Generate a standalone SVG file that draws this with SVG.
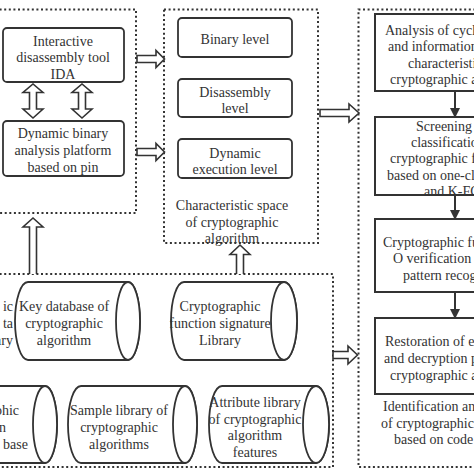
<svg xmlns="http://www.w3.org/2000/svg" width="474" height="474" viewBox="0 0 474 474">
<style>
text{font-family:"Liberation Serif","Times New Roman",serif;font-size:14px;fill:#333}
.c{text-anchor:middle}
.s{text-anchor:start}
.e{text-anchor:end}
.dot{fill:none;stroke:#333;stroke-width:2;stroke-dasharray:2 2.6}
.rb{fill:#fff;stroke:#333;stroke-width:1.8}
.sb{fill:#fff;stroke:#333;stroke-width:2}
.cy{fill:#fff;stroke:#333;stroke-width:1.8}
.ha{fill:#fff;stroke:#333;stroke-width:1.6;stroke-linejoin:miter}
.ln{stroke:#333;stroke-width:2;fill:none}
</style>
<defs>
<marker id="fa" markerWidth="10" markerHeight="10" refX="9" refY="5" orient="auto" markerUnits="userSpaceOnUse">
<path d="M0,0 L10,5 L0,10 Z" fill="#333"/>
</marker>
</defs>
<rect width="474" height="474" fill="#fff"/>

<g id="containers">
<path class="dot" d="M-5,9.5 H136 V213 H-5"/>
<rect class="dot" x="164" y="9.5" width="154" height="233.5"/>
<path class="dot" d="M480,9.5 H358.5 V467 H480"/>
<path class="dot" d="M-5,274 H333 V467 H-5"/>
</g>

<g id="ida">
<rect class="rb" x="3" y="28" width="121" height="54" rx="4"/>
<text class="c" x="63" y="45.5">Interactive</text>
<text class="c" x="63" y="62">disassembly tool</text>
<text class="c" x="63" y="79">IDA</text>
</g>
<g id="pin">
<rect class="rb" x="3" y="121" width="121" height="55" rx="4"/>
<text class="c" x="63" y="138">Dynamic binary</text>
<text class="c" x="63" y="155">analysis platform</text>
<text class="c" x="63" y="171.5">based on pin</text>
</g>

<g id="binary">
<rect class="rb" x="178" y="18" width="114" height="39" rx="4"/>
<text class="c" x="235" y="44">Binary level</text>
</g>
<g id="disasm">
<rect class="rb" x="178" y="79" width="114" height="38" rx="4"/>
<text class="c" x="235" y="97">Disassembly</text>
<text class="c" x="235" y="113">level</text>
</g>
<g id="dynexec">
<rect class="rb" x="178" y="139" width="114" height="39" rx="4"/>
<text class="c" x="235" y="157.5">Dynamic</text>
<text class="c" x="235" y="173.5">execution level</text>
</g>
<g id="space-caption">
<text class="c" x="232" y="210">Characteristic space</text>
<text class="c" x="232" y="227">of cryptographic</text>
<text class="c" x="232" y="243">algorithm</text>
</g>

<g id="r1">
<rect class="sb" x="375" y="14" width="170" height="77"/>
<text class="s" x="385" y="35">Analysis of cycl</text>
<text class="s" x="388" y="51">and information</text>
<text class="s" x="408" y="68">characteristi</text>
<text class="s" x="390" y="84">cryptographic a</text>
</g>
<g id="r2">
<rect class="sb" x="375" y="117" width="170" height="78"/>
<text class="s" x="416" y="131">Screening</text>
<text class="s" x="411" y="147">classificatio</text>
<text class="s" x="390" y="163">cryptographic f</text>
<text class="s" x="387" y="180">based on one-cl</text>
<text class="s" x="424" y="196">and K-FC</text>
<line x1="375" y1="195" x2="480" y2="195" stroke="#333" stroke-width="2"/>
</g>
<g id="r3">
<rect class="sb" x="375" y="219" width="170" height="73"/>
<text class="s" x="383" y="246.5">Cryptographic fu</text>
<text class="s" x="393" y="263">O verification</text>
<text class="s" x="403" y="280">pattern recog</text>
</g>
<g id="r4">
<rect class="sb" x="375" y="318" width="170" height="76"/>
<text class="s" x="385" y="346">Restoration of e</text>
<text class="s" x="384" y="363">and decryption p</text>
<text class="s" x="390" y="380">cryptographic a</text>
</g>
<g id="right-caption">
<text class="s" x="383" y="411">Identification an</text>
<text class="s" x="381" y="428">of cryptographic</text>
<text class="s" x="394" y="444">based on code</text>
</g>

<g id="cyl-left-top">
<text class="e" x="13" y="311">ic</text>
<text class="e" x="13" y="328">ta</text>
<text class="e" x="13" y="345">ary</text>
</g>
<g id="cyl-keydb">
<path class="cy" d="M28,282 H128 A12,39 0 0 1 128,360 H28 A13,39 0 0 1 28,282 Z"/>
<ellipse class="cy" cx="128" cy="321" rx="12" ry="39"/>
<text class="c" x="64" y="311">Key database of</text>
<text class="c" x="64" y="328">cryptographic</text>
<text class="c" x="64" y="345">algorithm</text>
</g>
<g id="cyl-sig">
<path class="cy" d="M184,282 H284 A13,39 0 0 1 284,360 H184 A13,39 0 0 1 184,282 Z"/>
<ellipse class="cy" cx="284" cy="321" rx="13" ry="39"/>
<text class="c" x="220" y="311">Cryptographic</text>
<text class="c" x="220" y="328">function signature</text>
<text class="c" x="220" y="345">Library</text>
</g>
<g id="cyl-left-bottom">
<path class="cy" d="M-10,386 H45 A12,38.5 0 0 1 45,463 H-10 Z"/>
<ellipse class="cy" cx="45" cy="424.5" rx="12" ry="38.5"/>
<text class="e" x="19" y="415">phic</text>
<text class="e" x="6" y="432">n</text>
<text class="e" x="28" y="449">base</text>
</g>
<g id="cyl-sample">
<path class="cy" d="M81,386 H185 A12,38.5 0 0 1 185,463 H81 A13,38.5 0 0 1 81,386 Z"/>
<ellipse class="cy" cx="185" cy="424.5" rx="12" ry="38.5"/>
<text class="c" x="119" y="415">Sample library of</text>
<text class="c" x="119" y="432">cryptographic</text>
<text class="c" x="119" y="449">algorithms</text>
</g>
<g id="cyl-attr">
<path class="cy" d="M222,386 H316 A13,38.5 0 0 1 316,463 H222 A13,38.5 0 0 1 222,386 Z"/>
<ellipse class="cy" cx="316" cy="424.5" rx="13" ry="38.5"/>
<text class="c" x="255" y="407">Attribute library</text>
<text class="c" x="255" y="424">of cryptographic</text>
<text class="c" x="255" y="440">algorithm</text>
<text class="c" x="255" y="457">features</text>
</g>

<g id="connectors">
<path class="ha" d="M29.5,92.5 H23 L33,84 L43,92.5 H36.5 V109 H43 L33,118 L23,109 H29.5 Z"/>
<path class="ha" d="M78.5,92.5 H72 L82,84 L92,92.5 H85.5 V109 H92 L82,118 L72,109 H78.5 Z"/>
<path class="ha" d="M137,55.5 H156 V50.5 L164.5,59 L156,67.5 V62.5 H137 Z"/>
<path class="ha" d="M137,148.5 H156 V143.5 L164.5,152 L156,160.5 V155.5 H137 Z"/>
<path class="ha" d="M320,109.5 H349 V104 L359,113 L349,122 V116.5 H320 Z"/>
<path class="ha" d="M333,351.5 H348 V346 L357.5,355 L348,364 V358.5 H333 Z"/>
<path class="ha" d="M29.5,274 V227 H23 L33,218 L43,227 H36.5 V274"/>
<path class="ha" d="M236.5,274 V254.5 H230 L240,245 L250,254.5 H243.5 V274"/>
<line class="ln" x1="455" y1="91" x2="455" y2="117" marker-end="url(#fa)"/>
<line class="ln" x1="455" y1="195" x2="455" y2="219" marker-end="url(#fa)"/>
<line class="ln" x1="455" y1="292" x2="455" y2="318" marker-end="url(#fa)"/>
</g>
</svg>
